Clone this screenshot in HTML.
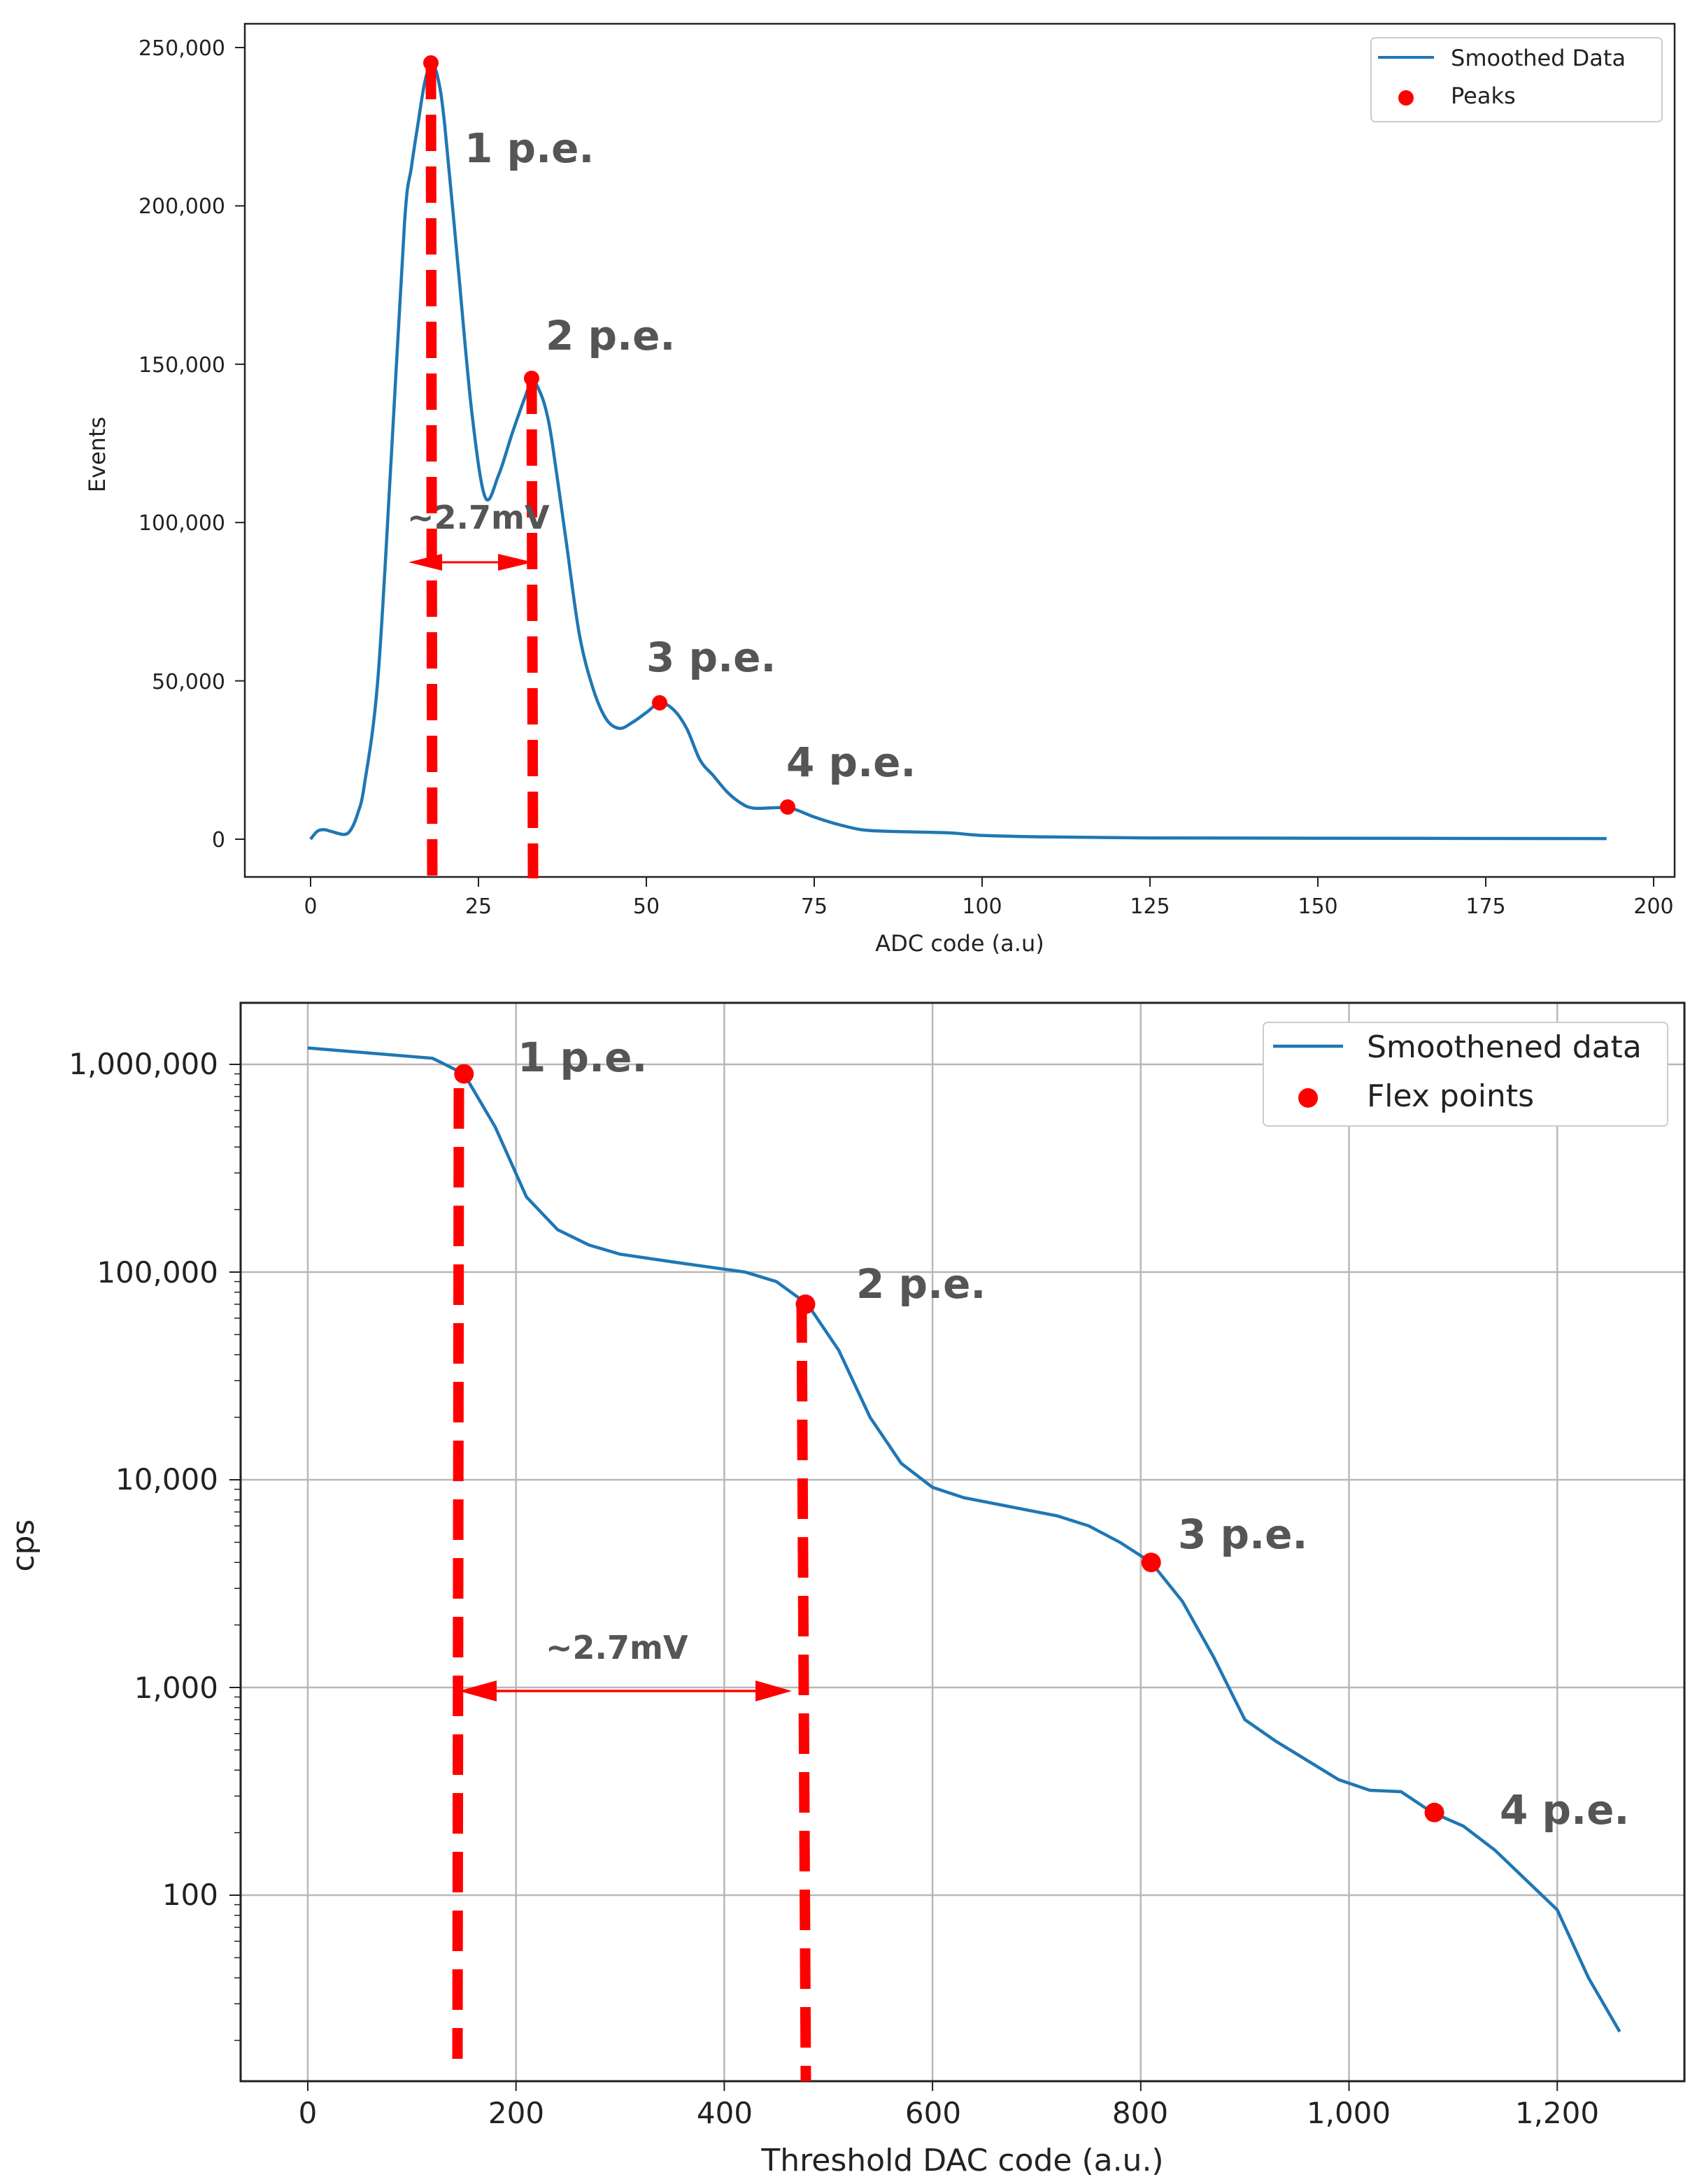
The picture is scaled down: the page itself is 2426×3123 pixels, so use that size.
<!DOCTYPE html>
<html><head><meta charset="utf-8"><style>
html,body{margin:0;padding:0;background:#fff}
svg{display:block}
text{font-family:"DejaVu Sans","Liberation Sans",sans-serif}
</style></head><body>
<svg id="s" width="2426" height="3123" viewBox="0 0 2426 3123" xmlns="http://www.w3.org/2000/svg">
<rect width="2426" height="3123" fill="#fff"/>
<g id="top">
<rect x="350" y="34" width="2044" height="1220" fill="none" stroke="#222" stroke-width="2.5"/>
<g font-size="30" fill="#222" text-anchor="end">
<text x="322" y="79">250,000</text>
<text x="322" y="305">200,000</text>
<text x="322" y="532">150,000</text>
<text x="322" y="758">100,000</text>
<text x="322" y="985">50,000</text>
<text x="322" y="1211">0</text>
</g>
<g font-size="30" fill="#222" text-anchor="middle">
<text x="444" y="1306">0</text>
<text x="684" y="1306">25</text>
<text x="924" y="1306">50</text>
<text x="1164" y="1306">75</text>
<text x="1404" y="1306">100</text>
<text x="1644" y="1306">125</text>
<text x="1884" y="1306">150</text>
<text x="2124" y="1306">175</text>
<text x="2364" y="1306">200</text>
<text x="1372" y="1360" font-size="32">ADC code (a.u)</text>
</g>
<text transform="translate(150,650) rotate(-90)" font-size="32" fill="#222" text-anchor="middle">Events</text>
<g id="topticks" stroke="#222" stroke-width="2"></g>
<path id="topcurve" fill="none" stroke="#1f77b4" stroke-width="4.5"/>
<line x1="616" y1="90" x2="618" y2="1262" stroke="#f00" stroke-width="15" stroke-dasharray="52,22"/>
<line x1="760" y1="540" x2="762" y2="1256" stroke="#f00" stroke-width="15" stroke-dasharray="52,22"/>
<g fill="#f00"><circle cx="616" cy="90" r="11"/><circle cx="760" cy="541" r="11"/><circle cx="943" cy="1005" r="11"/><circle cx="1126" cy="1154" r="11"/></g>
<line x1="600" y1="804" x2="750" y2="804" stroke="#f00" stroke-width="3"/>
<polygon points="584,804 632,792 632,816" fill="#f00"/>
<polygon points="762,804 712,792 712,816" fill="#f00"/>
<g font-size="58" font-weight="bold" fill="#555">
<text x="664" y="232">1 p.e.</text>
<text x="780" y="500">2 p.e.</text>
<text x="924" y="960">3 p.e.</text>
<text x="1124" y="1110">4 p.e.</text>
</g>
<text x="582" y="756" font-size="46" font-weight="bold" fill="#555">~2.7mV</text>
<rect x="1960" y="54" width="416" height="120" rx="6" fill="#fff" stroke="#ccc" stroke-width="2"/>
<line x1="1970" y1="82" x2="2050" y2="82" stroke="#1f77b4" stroke-width="4"/>
<circle cx="2010" cy="140" r="11" fill="#f00"/>
<g font-size="32" fill="#222"><text x="2074" y="94">Smoothed Data</text><text x="2074" y="148">Peaks</text></g>
</g>
<g id="bot">
<g id="grid" stroke="#b8b8b8" stroke-width="2.5"></g>
<rect x="344" y="1434" width="2064" height="1542" fill="none" stroke="#222" stroke-width="3"/>
<g id="botticks" stroke="#222" stroke-width="2"></g>
<g font-size="42" fill="#222" text-anchor="end">
<text x="312" y="1536">1,000,000</text>
<text x="312" y="1834">100,000</text>
<text x="312" y="2130">10,000</text>
<text x="312" y="2428">1,000</text>
<text x="312" y="2724">100</text>
</g>
<g font-size="42" fill="#222" text-anchor="middle">
<text x="440" y="3036">0</text>
<text x="738" y="3036">200</text>
<text x="1036" y="3036">400</text>
<text x="1334" y="3036">600</text>
<text x="1630" y="3036">800</text>
<text x="1928" y="3036">1,000</text>
<text x="2226" y="3036">1,200</text>
<text x="1376" y="3104" font-size="44">Threshold DAC code (a.u.)</text>
</g>
<text transform="translate(48,2210) rotate(-90)" font-size="44" fill="#222" text-anchor="middle">cps</text>
<path id="botcurve" fill="none" stroke="#1f77b4" stroke-width="4.5"/>
<line x1="656" y1="1556" x2="654" y2="2944" stroke="#f00" stroke-width="15" stroke-dasharray="58,26"/>
<line x1="1146" y1="1862" x2="1152" y2="2976" stroke="#f00" stroke-width="15" stroke-dasharray="58,26"/>
<g fill="#f00" id="botdots"></g>
<line x1="680" y1="2418" x2="1100" y2="2418" stroke="#f00" stroke-width="3.5"/>
<polygon points="656,2418 710,2403 710,2433" fill="#f00"/>
<polygon points="1132,2418 1080,2403 1080,2433" fill="#f00"/>
<g font-size="58" font-weight="bold" fill="#555">
<text x="740" y="1532">1 p.e.</text>
<text x="1224" y="1856">2 p.e.</text>
<text x="1684" y="2214">3 p.e.</text>
<text x="2144" y="2608">4 p.e.</text>
</g>
<text x="780" y="2372" font-size="46" font-weight="bold" fill="#555">~2.7mV</text>
<rect x="1806" y="1462" width="578" height="148" rx="6" fill="#fff" stroke="#ccc" stroke-width="2"/>
<line x1="1820" y1="1496" x2="1920" y2="1496" stroke="#1f77b4" stroke-width="4.5"/>
<circle cx="1870" cy="1570" r="14" fill="#f00"/>
<g font-size="44" fill="#222"><text x="1954" y="1512">Smoothened data</text><text x="1954" y="1582">Flex points</text></g>
</g>
</svg>
<script>
var NS="http://www.w3.org/2000/svg";
function el(p,t,a){var e=document.createElementNS(NS,t);for(var k in a)e.setAttribute(k,a[k]);p.appendChild(e);return e;}
function smooth(pts){var d="M"+pts[0][0]+","+pts[0][1];for(var i=0;i<pts.length-1;i++){var p0=pts[i-1]||pts[i],p1=pts[i],p2=pts[i+1],p3=pts[i+2]||p2;
var c1x=p1[0]+(p2[0]-p0[0])/6,c1y=p1[1]+(p2[1]-p0[1])/6,c2x=p2[0]-(p3[0]-p1[0])/6,c2y=p2[1]-(p3[1]-p1[1])/6;
d+=" C"+c1x.toFixed(1)+","+c1y.toFixed(1)+" "+c2x.toFixed(1)+","+c2y.toFixed(1)+" "+p2[0].toFixed(1)+","+p2[1].toFixed(1);}return d;}
var tx=function(v){return 444+v*9.6}, ty=function(v){return 1200-v*(1132/250000)};
var td=[[0,0],[1,2500],[2,3000],[3,2500],[5,1500],[6,3000],[7,8000],[8,17000],[10,50000],[12,120000],[14,195000],[15,212000],[16,226000],[17,239000],[18,245000],[19,240000],[20,225000],[22,180000],[24,135000],[26,108000],[28,115000],[30,128000],[32,140000],[33,145000],[34,142000],[35,136000],[36,125000],[38,95000],[40,65000],[42,48000],[44,38000],[46,35000],[48,37000],[50,40000],[52,43000],[54,41000],[56,35000],[58,25000],[60,20000],[62,15000],[64,11500],[66,9800],[70,10000],[72,9500],[75,7000],[78,5000],[82,3000],[86,2500],[95,2000],[100,1200],[110,700],[125,400],[150,300],[193,200]];
document.getElementById("topcurve").setAttribute("d",smooth(td.map(function(p){return[tx(p[0]),ty(p[1])]})));
var tt=document.getElementById("topticks");
[0,50000,100000,150000,200000,250000].forEach(function(v){var y=ty(v);el(tt,"line",{x1:336,x2:350,y1:y,y2:y});});
for(var v=0;v<=200;v+=25){var x=tx(v);el(tt,"line",{x1:x,x2:x,y1:1254,y2:1268});}
var bx=function(v){return 440+v*1.4885}, by=function(v){return 2710-(Math.log10(v)-2)*297};
var g=document.getElementById("grid"), bt=document.getElementById("botticks");
[0,200,400,600,800,1000,1200].forEach(function(v){var x=bx(v);el(g,"line",{x1:x,x2:x,y1:1434,y2:2976});el(bt,"line",{x1:x,x2:x,y1:2976,y2:2990});});
[100,1000,10000,100000,1000000].forEach(function(v){var y=by(v);el(g,"line",{x1:344,x2:2408,y1:y,y2:y});el(bt,"line",{x1:328,x2:344,y1:y,y2:y});});
for(var e=1;e<=6;e++)for(var m=2;m<=9;m++){var y=by(m*Math.pow(10,e));if(y>1434&&y<2976)el(bt,"line",{x1:335,x2:344,y1:y,y2:y,"stroke-width":1.5});}
var bd=[[0,1.2e6],[120,1.07e6],[150,0.9e6],[180,5e5],[210,2.3e5],[240,1.6e5],[270,1.35e5],[300,1.22e5],[350,1.12e5],[420,1e5],[450,9e4],[480,7e4],[510,4.2e4],[540,2e4],[570,1.2e4],[600,9.2e3],[630,8.2e3],[720,6.7e3],[750,6e3],[780,5e3],[810,4e3],[840,2.6e3],[870,1.4e3],[900,700],[930,550],[990,360],[1020,320],[1050,315],[1080,250],[1110,215],[1140,165],[1200,85],[1230,40],[1260,22]];
document.getElementById("botcurve").setAttribute("d","M"+bd.map(function(p){return bx(p[0]).toFixed(1)+","+by(p[1]).toFixed(1)}).join(" L"));
var dots=document.getElementById("botdots");
[[150,9e5],[478,7e4],[810,4e3],[1082,250]].forEach(function(p){el(dots,"circle",{cx:bx(p[0]),cy:by(p[1]),r:14});});
</script>
</body></html>
